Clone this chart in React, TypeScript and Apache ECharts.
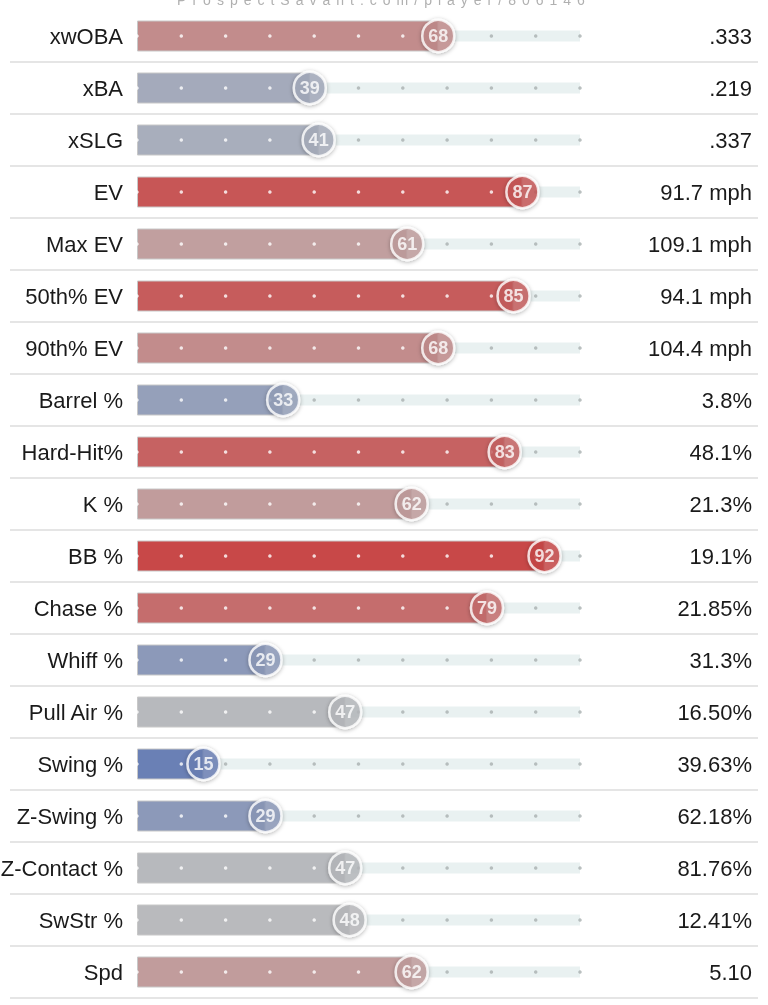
import React, { useEffect, useRef } from "react";
import * as echarts from "echarts";

const metrics = [
  "xwOBA", "xBA", "xSLG", "EV", "Max EV", "50th% EV", "90th% EV", "Barrel %",
  "Hard-Hit%", "K %", "BB %", "Chase %", "Whiff %", "Pull Air %", "Swing %",
  "Z-Swing %", "Z-Contact %", "SwStr %", "Spd",
];
const percentiles = [68, 39, 41, 87, 61, 85, 68, 33, 83, 62, 92, 79, 29, 47, 15, 29, 47, 48, 62];
const statValues = [
  ".333", ".219", ".337", "91.7 mph", "109.1 mph", "94.1 mph", "104.4 mph", "3.8%",
  "48.1%", "21.3%", "19.1%", "21.85%", "31.3%", "16.50%", "39.63%", "62.18%",
  "81.76%", "12.41%", "5.10",
];
const dotTicks = [0, 10, 20, 30, 40, 50, 60, 70, 80, 90, 100];
const trackMax = 100;
const watermark = "ProspectSavant.com/player/806146";

const LOW = [70, 101, 177];
const MID = [190, 190, 190];
const HIGH = [202, 50, 50];
function pctColor(p: number): string {
  let a: number[], b: number[], t: number;
  if (p <= 50) { a = LOW; b = MID; t = p / 50; } else { a = MID; b = HIGH; t = (p - 50) / 50; }
  const c = a.map((v, i) => Math.round(v + (b[i] - v) * t));
  return `rgb(${c[0]},${c[1]},${c[2]})`;
}

const FONT = "'Liberation Sans', Arial, Helvetica, sans-serif";

export default function App() {
  const ref = useRef<HTMLDivElement>(null);
  useEffect(() => {
    if (!ref.current) return;
    const chart = echarts.init(ref.current, null, { renderer: "svg" });
    const n = metrics.length;
    const top = 10;
    const rowH = 52;
    const gridH = n * rowH;
    const dots: any[] = [];
    metrics.forEach((m, i) => {
      dotTicks.forEach((t) => {
        dots.push({
          value: [t, m],
          itemStyle: { color: t < percentiles[i] ? "#ffffff" : "#a9b0b0" },
        });
      });
    });
    const hiddenCat = (data: string[], gridIndex: number) => ({
      type: "category", data, inverse: true, gridIndex, show: false,
    });
    chart.setOption({
      animation: false,
      textStyle: { fontFamily: FONT },
      grid: [
        { left: 137, right: 188, top, height: gridH, outerBoundsMode: "none", containLabel: false },
        { left: 10, right: 10, top: top + rowH, height: gridH - rowH, outerBoundsMode: "none", containLabel: false },
        { left: 137, right: 188, top, height: gridH, outerBoundsMode: "none", containLabel: false },
      ],
      xAxis: [
        { type: "value", min: 0, max: 100, show: false, gridIndex: 0 },
        { type: "value", min: 0, max: 100, show: false, gridIndex: 1 },
        { type: "value", min: 0, max: 100, show: false, gridIndex: 2 },
      ],
      yAxis: [
        {
          type: "category", data: metrics, inverse: true, gridIndex: 0,
          axisLine: { show: false }, axisTick: { show: false },
          axisLabel: { fontSize: 22, color: "#1a1a1a", margin: 14, fontFamily: FONT },
        },
        {
          type: "category", data: statValues, inverse: true, gridIndex: 0, position: "right",
          axisLine: { show: false }, axisTick: { show: false },
          axisLabel: { fontSize: 22, color: "#1a1a1a", align: "right", margin: 172, fontFamily: FONT },
        },
        {
          type: "category", data: metrics.slice(1), inverse: true, gridIndex: 1,
          axisLine: { show: false }, axisTick: { show: false }, axisLabel: { show: false },
          splitLine: { show: true, lineStyle: { color: "#dcdcdc", width: 1.5 } },
        },
        hiddenCat(metrics, 2),
      ],
      series: [
        {
          type: "bar", xAxisIndex: 2, yAxisIndex: 3, barWidth: 11,
          data: metrics.map(() => trackMax), silent: true,
          itemStyle: { color: "#e9f1f1" }, z: 1,
        },
        {
          type: "bar", xAxisIndex: 0, yAxisIndex: 0, barWidth: 31,
          data: percentiles.map((p) => ({
            value: p,
            itemStyle: { color: pctColor(p), borderColor: "#c8c8c8", borderWidth: 1 },
          })),
          z: 2,
        },
        {
          type: "scatter", xAxisIndex: 0, yAxisIndex: 0, symbolSize: 3.5,
          data: dots, z: 3, silent: true,
        },
        {
          type: "scatter", xAxisIndex: 0, yAxisIndex: 0, symbolSize: 32, z: 4,
          data: percentiles.map((p, i) => ({
            value: [p, metrics[i]],
            itemStyle: {
              color: pctColor(p), borderColor: "#ffffff", borderWidth: 2.5,
              shadowColor: "rgba(0,0,0,0.35)", shadowBlur: 4, shadowOffsetY: 1,
            },
          })),
          label: {
            show: true, position: "inside", color: "#ffffff", fontSize: 18,
            fontWeight: "bold", fontFamily: FONT,
            formatter: (pr: any) => String(pr.value[0]),
          },
        },
      ],
    });
    return () => chart.dispose();
  }, []);
  return (
    <div style={{ position: "fixed", left: 0, top: 0, width: 768, height: 1005, background: "#fff" }}>
      <div
        style={{
          position: "absolute", left: 0, width: 768, top: -8, textAlign: "center",
          fontFamily: FONT, fontSize: 14, letterSpacing: 6, color: "#b0b0b0",
          lineHeight: "16px", whiteSpace: "nowrap",
        }}
      >
        {watermark}
      </div>
      <div ref={ref} style={{ position: "absolute", left: 0, top: 0, width: 768, height: 1005 }} />
    </div>
  );
}
